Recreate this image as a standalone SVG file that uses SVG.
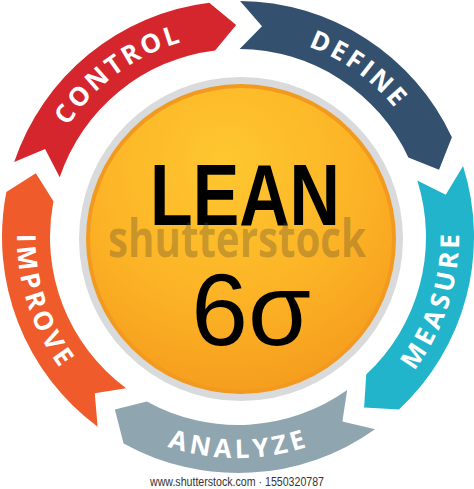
<svg xmlns="http://www.w3.org/2000/svg" width="474" height="489" viewBox="0 0 474 489">
  <style>
    .lbl { font-family: "Open Sans", "Liberation Sans", sans-serif; font-weight: bold; font-size: 26px; fill: #ffffff; letter-spacing: 3px; }
    .big { font-family: "Liberation Sans", Arial, sans-serif; fill: #000000; }
  </style>
  <defs>
    <radialGradient id="sun" cx="0.45" cy="0.25" r="0.8">
      <stop offset="0" stop-color="#fec730"/>
      <stop offset="0.55" stop-color="#fcb426"/>
      <stop offset="1" stop-color="#f59b1d"/>
    </radialGradient>
    <path id="pControl" d="M36.21,259.10 A203,203 0 0 1 319.76,51.19"/>
    <path id="pDefine" d="M154.62,51.91 A203,203 0 0 1 439.98,257.34"/>
    <path id="pMeasure" d="M284.89,452.97 A221,221 0 0 0 401.55,88.37"/>
    <path id="pAnalyze" d="M47.07,348.33 A221,221 0 0 0 429.87,346.66"/>
    <path id="pImprove" d="M73.12,89.84 A221,221 0 0 0 193.00,453.37"/>
  </defs>
  <rect width="474" height="489" fill="#ffffff"/>

  <g id="control">
    <path fill="#d5262d" d="M14.20,162.12 A236,236 0 0 1 209.24,2.76 L236.15,25.01 L215.09,50.40 A188,188 0 0 0 59.72,177.35 L45.09,149.09 Z"/>
    <text class="lbl"><textPath href="#pControl" startOffset="50%" text-anchor="middle">CONTROL</textPath></text>
  </g>
  <g id="define">
    <path fill="#34506f" d="M240.06,1.01 A236,236 0 0 1 451.89,137.26 L439.04,169.73 L408.39,157.55 A188,188 0 0 0 239.64,49.01 L262.00,26.36 Z"/>
    <text class="lbl"><textPath href="#pDefine" startOffset="50%" text-anchor="middle">DEFINE</textPath></text>
  </g>
  <g id="measure">
    <path fill="#22b4ca" d="M463.08,166.03 A236,236 0 0 1 398.95,409.60 L364.10,407.42 L366.22,374.49 A188,188 0 0 0 417.30,180.47 L445.74,194.73 Z"/>
    <text class="lbl" style="letter-spacing:4px"><textPath href="#pMeasure" startOffset="50%" text-anchor="middle">MEASURE</textPath></text>
  </g>
  <g id="analyze">
    <path fill="#8fa5af" d="M375.05,429.13 A236,236 0 0 1 123.58,443.41 L114.89,409.59 L146.86,401.43 A188,188 0 0 0 347.17,390.05 L342.39,421.52 Z"/>
    <text class="lbl" style="letter-spacing:4px"><textPath href="#pAnalyze" startOffset="50%" text-anchor="middle">ANALYZE</textPath></text>
  </g>
  <g id="improve">
    <path fill="#ef5b2b" d="M97.62,426.71 A236,236 0 0 1 6.34,191.97 L35.81,173.25 L53.45,201.13 A188,188 0 0 0 126.17,388.13 L94.77,393.30 Z"/>
    <text class="lbl" style="letter-spacing:4px"><textPath href="#pImprove" startOffset="50%" text-anchor="middle">IMPROVE</textPath></text>
  </g>

  <g id="center">
    <circle cx="241" cy="239" r="162" fill="#d9dadb"/>
    <circle cx="241" cy="239" r="155" fill="#f29a1f"/>
    <circle cx="241" cy="239" r="151" fill="url(#sun)"/>
    <text class="big" x="245" y="225" font-size="88" font-weight="bold" text-anchor="middle" textLength="190" lengthAdjust="spacingAndGlyphs">LEAN</text>
    <text class="big" x="251" y="345" font-size="102" text-anchor="middle">6σ</text>
  </g>

  <g id="watermark">
    <text x="108" y="257" font-family="'Open Sans', 'Liberation Sans', sans-serif" font-weight="bold" font-size="52" fill="#5a4a30" fill-opacity="0.32" textLength="258" lengthAdjust="spacingAndGlyphs">shutterstock</text>
    <text x="150" y="486" font-family="'Liberation Sans', Arial, sans-serif" font-size="13" fill="#333333" textLength="174" lengthAdjust="spacingAndGlyphs">www.shutterstock.com · 1550320787</text>
  </g>
</svg>
